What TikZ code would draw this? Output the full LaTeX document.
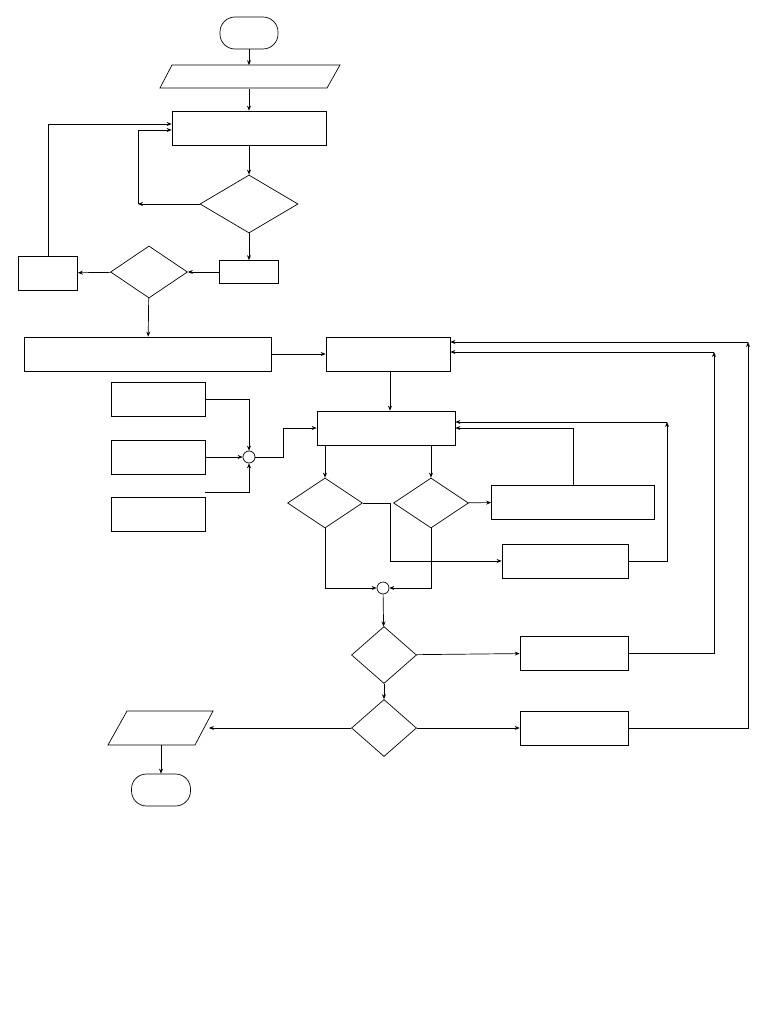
\documentclass[tikz,border=0pt]{standalone}
\usetikzlibrary{shapes.geometric,arrows.meta}
\begin{document}
\begin{tikzpicture}[x=1pt,y=-1pt,
  box/.style={draw,minimum width=#1,minimum height=34pt,inner sep=0pt},
  jn/.style={draw,circle,minimum size=12pt,inner sep=0pt},
  ionode/.style={minimum width=#1,minimum height=23pt,inner sep=0pt},
  line width=0.7pt,>={Stealth[length=5pt,width=4pt]}]
\useasboundingbox (0,0) rectangle (768,1024);
\node[draw,rounded corners=15pt,minimum width=58pt,minimum height=32pt] (t1) at (249,33) {};
\node[ionode=170pt] (p1) at (249,77) {};
\draw (172,65)--(340,65)--(327,88)--(160,88)--cycle;
\node[box=154pt] (r1) at (249,128) {};
\node[draw,diamond,minimum width=98pt,minimum height=58pt,inner sep=0pt] (d1) at (249,204) {};
\node[draw,minimum width=59pt,minimum height=23pt] (sr) at (249,272) {};
\node[draw,diamond,minimum width=77pt,minimum height=52pt,inner sep=0pt] (d2) at (149,272) {};
\node[box=59pt] (lr) at (48,273) {};
\node[box=247pt] (br) at (148,354) {};
\node[box=124pt] (rr) at (388,354) {};
\node[box=94pt] (a) at (158,399) {};
\node[box=94pt] (b) at (158,457) {};
\node[box=94pt] (c) at (158,514) {};
\node[jn] (j1) at (249,457) {};
\node[box=138pt] (m) at (386,428) {};
\node[draw,diamond,minimum width=75pt,minimum height=50pt,inner sep=0pt] (d3) at (325,503) {};
\node[draw,diamond,minimum width=75pt,minimum height=50pt,inner sep=0pt] (d4) at (431,503) {};
\node[box=163pt] (r2) at (573,502) {};
\node[box=126pt] (r3) at (565,561) {};
\node[jn] (j2) at (383,588) {};
\node[draw,diamond,minimum width=65pt,minimum height=57pt,inner sep=0pt] (d5) at (384,655) {};
\node[box=108pt] (r4) at (574,653) {};
\node[draw,diamond,minimum width=65pt,minimum height=57pt,inner sep=0pt] (d6) at (384,728) {};
\node[box=108pt] (r5) at (574,728) {};
\node[minimum width=95pt,minimum height=34pt,inner sep=0pt] (p2) at (161,728) {};
\draw (127,711)--(213,711)--(195,745)--(108,745)--cycle;
\node[draw,rounded corners=15pt,minimum width=59pt,minimum height=32pt] (t2) at (161,790) {};
\coordinate (k1) at (138,204);
\draw[->] (t1)--(p1);
\draw[->] (p1)--(r1);
\draw[->] (r1)--(d1);
\draw[->] (d1.west)--(k1);
\draw[->] (k1)--(138,130)--(r1.west|-0,130);
\draw[->] (d1)--(sr);
\draw[->] (sr)--(d2);
\draw[->] (d2)--(lr);
\draw[->] (lr.north)--(48,124)--(r1.west|-0,124);
\draw[->] (d2)--(br);
\draw[->] (br)--(rr);
\draw[->] (rr.south-|390,0)--(m.north-|390,0);
\draw[->] (a.east)-|(j1.north);
\draw[->] (b)--(j1);
\draw[->] (c.east|-0,492)-|(j1.south);
\draw[->] (j1.east)--(283,457)|-(m.west);
\draw[->] (m.south-|325,0)--(d3.north);
\draw[->] (m.south-|431,0)--(d4.north);
\draw[->] (d3.east)--(390,503)|-(r3.west);
\draw[->] (d4)--(r2);
\draw[->] (r2.north)|-(m.east);
\draw[->] (r3.east)--(667,561)--(667,422);
\draw[->] (667,422)--(m.east|-0,422);
\draw[->] (d3.south)--(325,588)--(j2.west);
\draw[->] (d4.south)--(431,588)--(j2.east);
\draw[->] (j2)--(d5);
\draw[->] (d5)--(r4);
\draw[->] (r4.east)--(714,653)--(714,352);
\draw[->] (714,352)--(rr.east|-0,352);
\draw[->] (d5)--(d6);
\draw[->] (d6)--(r5);
\draw[->] (r5.east)--(748,728)--(748,342);
\draw[->] (748,342)--(rr.east|-0,342);
\draw[->] (d6)--(p2);
\draw[->] (p2)--(t2);
\end{tikzpicture}
\end{document}
